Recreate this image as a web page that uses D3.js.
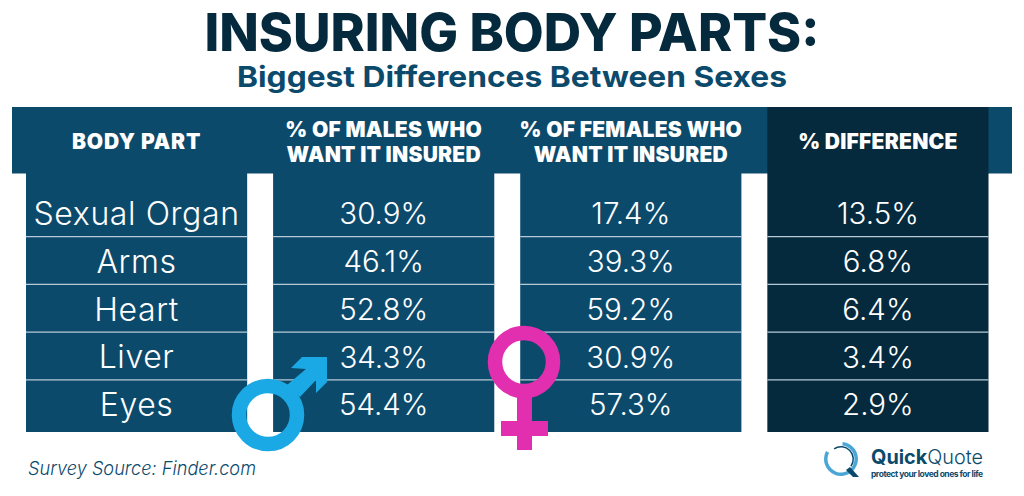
<!DOCTYPE html>
<html>
<head>
<meta charset="utf-8">
<script src="https://cdn.jsdelivr.net/npm/d3@7"></script>
<style>
  html, body { margin: 0; padding: 0; background: #fff; }
  svg { display: block; }
  text { font-family: Inter, "Noto Sans", sans-serif; }
</style>
</head>
<body>
<div id="chart"></div>
<script>
// table contents
const columns = ["part", "male", "female", "diff"];
const headers = [
  ["BODY PART"],
  ["% OF MALES WHO", "WANT IT INSURED"],
  ["% OF FEMALES WHO", "WANT IT INSURED"],
  ["% DIFFERENCE"]
];
const bodyParts = ["Sexual Organ", "Arms", "Heart", "Liver", "Eyes"];
const maleShare = [30.9, 46.1, 52.8, 34.3, 54.4];
const femaleShare = [17.4, 39.3, 59.2, 30.9, 57.3];
const difference = [13.5, 6.8, 6.4, 3.4, 2.9];

const width = 1024, height = 496;
const blue = "#0c4a6c", navy = "#052a3d", rule = "#b7cad6";

const svg = d3.select("#chart").append("svg")
    .attr("width", width)
    .attr("height", height);

// titles
svg.append("text")
    .attr("x", 512).attr("y", 51)
    .attr("text-anchor", "middle")
    .attr("fill", navy)
    .style("font-size", "52px").style("font-weight", 800)
    .attr("textLength", 615).attr("lengthAdjust", "spacingAndGlyphs")
    .text("INSURING BODY PARTS:");
svg.append("text")
    .attr("x", 512).attr("y", 87)
    .attr("text-anchor", "middle")
    .attr("fill", blue)
    .style("font-size", "29px").style("font-weight", 700)
    .attr("textLength", 550).attr("lengthAdjust", "spacingAndGlyphs")
    .text("Biggest Differences Between Sexes");

// scales
const x = d3.scaleBand().domain(columns).range([26, 988.5]).paddingInner(0.105);
const y = d3.scaleBand().domain(bodyParts).range([189, 427.5]);
const fmt = d => d3.format(".1f")(d) + "%";

// header band behind everything
svg.append("rect")
    .attr("x", 12).attr("y", 107)
    .attr("width", 1000).attr("height", 66.5)
    .attr("fill", blue);

// column panels
svg.selectAll("rect.panel")
  .data(columns)
  .enter()
  .append("rect")
    .attr("class", "panel")
    .attr("x", d => x(d))
    .attr("y", d => d === "diff" ? 107 : 173)
    .attr("width", x.bandwidth())
    .attr("height", d => d === "diff" ? 325 : 259)
    .attr("fill", d => d === "diff" ? navy : blue);

// row rules
columns.forEach(c => {
  svg.selectAll("line.rule-" + c)
    .data(bodyParts.slice(1))
    .enter()
    .append("line")
      .attr("class", "rule-" + c)
      .attr("x1", x(c))
      .attr("x2", x(c) + x.bandwidth())
      .attr("y1", d => y(d))
      .attr("y2", d => y(d))
      .attr("stroke", rule)
      .attr("stroke-width", 1.2);
});

// header labels
columns.forEach((c, i) => {
  const lines = headers[i];
  const cx = x(c) + x.bandwidth() / 2;
  svg.selectAll("text.head-" + c)
    .data(lines)
    .enter()
    .append("text")
      .attr("class", "head-" + c)
      .attr("x", cx)
      .attr("y", (d, j) => (lines.length === 1 ? 149 : 137 + j * 25))
      .attr("text-anchor", "middle")
      .attr("fill", "#fff")
      .style("font-size", "21px")
      .style("font-weight", 900)
      .style("letter-spacing", c === "part" ? "0.8px" : "0.25px")
      .text(d => d);
});

// cells
const cellColumns = [bodyParts, maleShare.map(fmt), femaleShare.map(fmt), difference.map(fmt)];
columns.forEach((c, i) => {
  svg.selectAll("text.cell-" + c)
    .data(cellColumns[i])
    .enter()
    .append("text")
      .attr("class", "cell-" + c)
      .attr("x", x(c) + x.bandwidth() / 2)
      .attr("y", (d, j) => y(bodyParts[j]) + y.bandwidth() / 2 + 1)
      .attr("dy", "0.36em")
      .attr("text-anchor", "middle")
      .attr("fill", "#fff")
      .style("font-size", c === "part" ? "32px" : "29.5px")
      .style("font-weight", 300)
      .style("letter-spacing", c === "part" ? "0.6px" : "0px")
      .text(d => d);
});

// male symbol
const male = svg.append("g").attr("transform", "translate(268,415)");
male.append("circle")
    .attr("r", 29).attr("fill", "none")
    .attr("stroke", "#1aa9e4").attr("stroke-width", 14.5);
male.append("path")
    .attr("fill", "#1aa9e4")
    .attr("d", "M19,-30L38,-46L23,-47L34,-58L59,-58L59,-33L48,-22L48,-35L32,-18Z");

// female symbol
const female = svg.append("g").attr("transform", "translate(524,362)");
female.append("circle")
    .attr("r", 29).attr("fill", "none")
    .attr("stroke", "#e22fb0").attr("stroke-width", 14.5);
female.append("path")
    .attr("fill", "#e22fb0")
    .attr("d", "M-7,34H8V59H24V74H8V88H-7V74H-23V59H-7Z");

// source
const source = svg.append("text")
    .attr("x", 28).attr("y", 475)
    .attr("fill", blue)
    .style("font-size", "18.5px")
    .style("font-style", "italic")
    .style("font-weight", 300)
    .attr("textLength", 228).attr("lengthAdjust", "spacingAndGlyphs");
source.text("Survey Source: Finder.com");

// logo
const logo = svg.append("g").attr("transform", "translate(841,459)");
const arc = d3.arc();
logo.append("path")
    .attr("fill", "#4ba6d8")
    .attr("d", arc({ innerRadius: 13.5, outerRadius: 17, startAngle: 0.1, endAngle: 5.2 }));
logo.append("path")
    .attr("fill", "#0c4a6c")
    .attr("d", arc({ innerRadius: 11.5, outerRadius: 13, startAngle: -0.6, endAngle: 2.2 }));
logo.append("path")
    .attr("fill", "#0c4a6c")
    .attr("d", "M5,11L9,8L18,18H12Z");
const brand = svg.append("text")
    .attr("x", 871).attr("y", 464)
    .attr("fill", blue)
    .style("font-size", "20px")
    .attr("textLength", 112).attr("lengthAdjust", "spacingAndGlyphs");
brand.append("tspan").style("font-weight", 700).text("Quick");
brand.append("tspan").style("font-weight", 300).text("Quote");
svg.append("text")
    .attr("x", 871).attr("y", 477)
    .attr("fill", blue)
    .style("font-size", "8.5px").style("font-weight", 700)
    .attr("textLength", 112).attr("lengthAdjust", "spacing")
    .text("protect your loved ones for life");
</script>
</body>
</html>
